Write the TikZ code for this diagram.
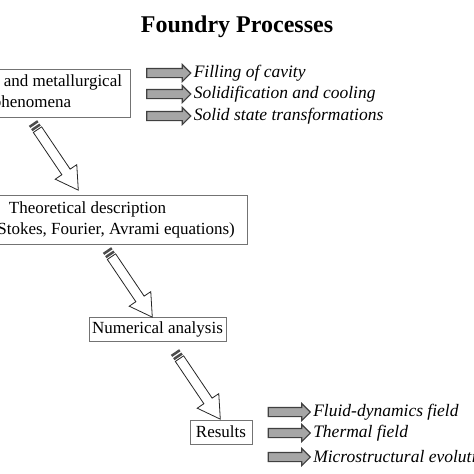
\documentclass[tikz,border=0pt]{standalone}
\usepackage{fontspec}
\setmainfont{Liberation Serif}
\usetikzlibrary{positioning,shapes.arrows}

\tikzset{
  bigarrow/.pic={
    \fill[black!70] (0,-5) rectangle (2.5,5);
    \fill[black!70] (4,-5) rectangle (6.5,5);
    \draw[black!85, line width=0.8pt, fill=white] (8,-5) -- (59,-5) -- (59,-13) -- (81,0) -- (59,13) -- (59,5) -- (8,5) -- cycle;
  }
}

\begin{document}
\begin{tikzpicture}[
  x=1pt, y=-1pt,
  box/.style={rectangle, draw=black!55, line width=0.9pt, fill=white, align=center, inner sep=0pt, font=\fontsize{17}{21}\selectfont},
  smallarr/.style={single arrow, draw=black!75, line width=1.1pt, fill=black!35, minimum height=44pt, inner sep=4pt, single arrow head extend=4pt},
  item/.style={inner sep=0pt, font=\fontsize{17.5}{21}\selectfont\itshape}
]
\useasboundingbox (0,0) rectangle (474,474);

\node[font=\fontsize{24}{28}\selectfont\bfseries] (title) at (237,27) {Foundry Processes};

% main boxes
\node[box, minimum width=196pt, minimum height=48pt] (phys) at (32,93) {Physical and metallurgical\\phenomena};
\node[box, minimum width=319pt, minimum height=49pt] (theo) at (87.5,219.5) {Theoretical description\\(Navier-Stokes, Fourier, Avrami equations)};
\node[box, minimum width=137pt, minimum height=24pt] (num) at (157.5,329) {Numerical analysis};
\node[box, minimum width=62pt, minimum height=24pt] (res) at (221,432) {Results};

% phenomena
\node[smallarr] (fill) at (166.5,73) {};
\node[smallarr] (solid) at (166.5,94) {};
\node[smallarr] (trans) at (166.5,116) {};
\node[item, right=2pt of fill.tip] {Filling of cavity};
\node[item, right=2pt of solid.tip] {Solidification and cooling};
\node[item, right=2pt of trans.tip] {Solid state transformations};

% results
\node[smallarr, minimum height=42pt] (fluid) at (287,412) {};
\node[smallarr, minimum height=42pt] (therm) at (287,433) {};
\node[smallarr, minimum height=42pt] (micro) at (287,457) {};
\node[item, right=2pt of fluid.tip] {Fluid-dynamics field};
\node[item, right=2pt of therm.tip] {Thermal field};
\node[item, right=2pt of micro.tip] {Microstructural evolution};

% steps
\coordinate (t1) at (33,123);
\coordinate (t2) at (107,250);
\coordinate (t3) at (175,352);
\pic[rotate=-56] at (t1) {bigarrow};
\pic[rotate=-56] at (t2) {bigarrow};
\pic[rotate=-56] at (t3) {bigarrow};
\end{tikzpicture}
\end{document}
